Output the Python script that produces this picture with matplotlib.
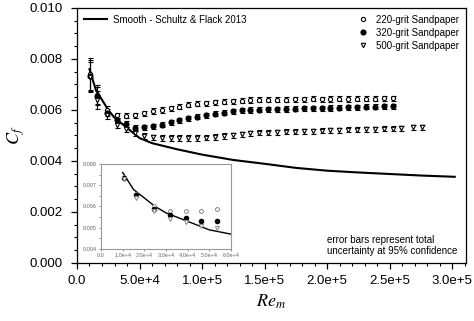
import numpy as np
import matplotlib.pyplot as plt
from matplotlib.ticker import MultipleLocator, FuncFormatter

plt.rcParams['font.family'] = ['Liberation Sans', 'DejaVu Sans']
plt.rcParams['mathtext.fontset'] = 'stix'

# Reynolds numbers of the test points (thousands)
re_k = [10.7, 16.0, 24.3, 32.0, 39.0, 46.0, 53.5, 60.6, 67.7, 74.8, 81.9, 89.0,
        96.1, 103.2, 110.3, 117.4, 124.5, 131.6, 138.7, 145.8, 152.9, 160.0,
        167.1, 174.2, 181.3, 188.4, 195.5, 202.6, 209.7, 216.8, 223.9, 231.0,
        238.1, 245.2, 252.3]
re_k_500 = re_k + [259.4, 268.5, 275.5]

cf_220 = [0.0074, 0.0066, 0.0060, 0.0058, 0.00578, 0.0058, 0.00587, 0.00596,
          0.0060, 0.00607, 0.00613, 0.0062, 0.00624, 0.00627, 0.0063, 0.00633,
          0.00635, 0.00637, 0.00639, 0.0064, 0.0064, 0.00641, 0.00641, 0.00642,
          0.00642, 0.00645, 0.00642, 0.00643, 0.00644, 0.00643, 0.00644,
          0.00645, 0.00645, 0.00646, 0.00646]
cf_320 = [0.00735, 0.00655, 0.0059, 0.0056, 0.00545, 0.0053, 0.00532, 0.00537,
          0.00543, 0.00551, 0.0056, 0.00567, 0.00574, 0.0058, 0.00586, 0.0059,
          0.00595, 0.00599, 0.006, 0.00601, 0.00602, 0.00603, 0.00604, 0.00605,
          0.00606, 0.00607, 0.00607, 0.00608, 0.00609, 0.0061, 0.00611, 0.00612,
          0.00613, 0.00614, 0.00615]
cf_500 = [0.0073, 0.0064, 0.0058, 0.0054, 0.00525, 0.00508, 0.00498, 0.00493,
          0.0049, 0.0049, 0.0049, 0.0049, 0.0049, 0.00491, 0.00494, 0.00498,
          0.00501, 0.00504, 0.00508, 0.0051, 0.00511, 0.00513, 0.00514, 0.00515,
          0.00516, 0.00517, 0.00518, 0.0052, 0.00521, 0.00522, 0.00523, 0.00524,
          0.00525, 0.00526, 0.00527, 0.00529, 0.00532, 0.00533]

# 95% uncertainty
err_220 = [0.00063, 0.00038, 0.00015] + [0.0001] * 32
err_320 = [0.0006, 0.00035, 0.00014] + [0.0001] * 32
err_500 = [0.0006, 0.00035, 0.00014] + [0.0001] * 35

# smooth-wall reference curve
smooth_re_k = [10.0, 15.0, 20.0, 25.0, 30.0, 40.0, 50.0, 60.0, 80.0, 100.0,
               125.0, 150.0, 175.0, 200.0, 225.0, 250.0, 275.0, 302.0]
smooth_cf = [0.0076, 0.0068, 0.0064, 0.0060, 0.0057, 0.0053, 0.0049, 0.0047,
             0.00446, 0.00425, 0.00404, 0.00389, 0.00373, 0.00362, 0.00355,
             0.00349, 0.00343, 0.00338]

re = np.array(re_k) * 1e3
re500 = np.array(re_k_500) * 1e3
sre = np.array(smooth_re_k) * 1e3
scf = np.array(smooth_cf)


def sci(v, pos):
    if v == 0:
        return '0.0'
    m, e = f'{v:.1e}'.split('e')
    return f'{m}e+{int(e)}'


fig = plt.figure(figsize=(4.74, 3.21), dpi=100)
ax = fig.add_axes([0.1624, 0.1807, 0.8207, 0.7944])

smooth_line, = ax.plot(sre, scf, color='black', lw=1.5, zorder=2)

ebkw = dict(fmt='none', ecolor='black', elinewidth=0.8, capsize=1.8, capthick=0.8, zorder=3)
ax.errorbar(re, cf_220, yerr=err_220, **ebkw)
ax.errorbar(re, cf_320, yerr=err_320, **ebkw)
ax.errorbar(re500, cf_500, yerr=err_500, **ebkw)
h220, = ax.plot(re, cf_220, 'o', ms=3.0, mfc='white', mec='black', mew=0.8, ls='none', zorder=4)
h320, = ax.plot(re, cf_320, 'o', ms=3.4, mfc='black', mec='black', ls='none', zorder=4)
h500, = ax.plot(re500, cf_500, 'v', ms=3.2, mfc='white', mec='black', mew=0.8, ls='none', zorder=4)

ax.set_xlim(0, 3.11e5)
ax.set_ylim(0, 0.010)
ax.xaxis.set_major_locator(MultipleLocator(5e4))
ax.xaxis.set_minor_locator(MultipleLocator(1e4))
ax.yaxis.set_major_locator(MultipleLocator(0.002))
ax.yaxis.set_minor_locator(MultipleLocator(0.0005))
ax.xaxis.set_major_formatter(FuncFormatter(sci))
ax.yaxis.set_major_formatter(FuncFormatter(lambda v, p: f'{v:.3f}'))
ax.tick_params(which='major', direction='out', length=4, width=0.9, labelsize=9.5)
ax.tick_params(axis='y', which='major', pad=6)
ax.tick_params(axis='x', which='major', pad=5)
ax.tick_params(which='minor', direction='out', length=2.5, width=0.8)
for s in ax.spines.values():
    s.set_linewidth(0.9)

ax.set_xlabel(r'$Re_m$', fontsize=13)
ax.set_ylabel(r'$C_f$', fontsize=13)
ax.xaxis.set_label_coords(0.5, -0.115)
ax.yaxis.set_label_coords(-0.128, 0.5)

leg1 = ax.legend([smooth_line], ['Smooth - Schultz & Flack 2013'], loc='upper left',
                 frameon=False, fontsize=7, handlelength=2.4, handletextpad=0.6,
                 borderaxespad=0.3)
ax.add_artist(leg1)
ax.legend([h220, h320, h500],
          ['220-grit Sandpaper', '320-grit Sandpaper', '500-grit Sandpaper'],
          loc='upper right', frameon=False, fontsize=7, handlelength=1.0,
          handletextpad=0.9, labelspacing=0.3, borderaxespad=0.3)

ax.text(0.642, 0.027, 'error bars represent total\nuncertainty at 95% confidence',
        transform=ax.transAxes, fontsize=7, ha='left', va='bottom', linespacing=1.15)

# inset: low Reynolds number region
ins = fig.add_axes([0.2131, 0.2243, 0.2743, 0.2648])
n = 7
mask = sre <= 6.0e4
ins.plot(sre[mask], scf[mask], color='black', lw=1.0)
ins.plot(re[:n], cf_220[:n], 'o', ms=2.8, mfc='white', mec='#888888', mew=0.7, ls='none')
ins.plot(re[:n], cf_320[:n], 'o', ms=3.0, mfc='black', mec='black', ls='none')
ins.plot(re500[:n], cf_500[:n], 'v', ms=3.0, mfc='white', mec='#888888', mew=0.7, ls='none')
ins.set_xlim(0, 6e4)
ins.set_ylim(0.004, 0.008)
ins.xaxis.set_major_locator(MultipleLocator(1e4))
ins.yaxis.set_major_locator(MultipleLocator(0.001))
ins.yaxis.set_minor_locator(MultipleLocator(0.0005))
ins.xaxis.set_major_formatter(FuncFormatter(sci))
ins.yaxis.set_major_formatter(FuncFormatter(lambda v, p: f'{v:.3f}'))
ins.tick_params(which='both', direction='out', length=1.5, width=0.5,
                labelsize=4, colors='#666666', pad=1.5)
for s in ins.spines.values():
    s.set_color('#999999')
    s.set_linewidth(0.8)

fig.savefig('out.png', dpi=100)
